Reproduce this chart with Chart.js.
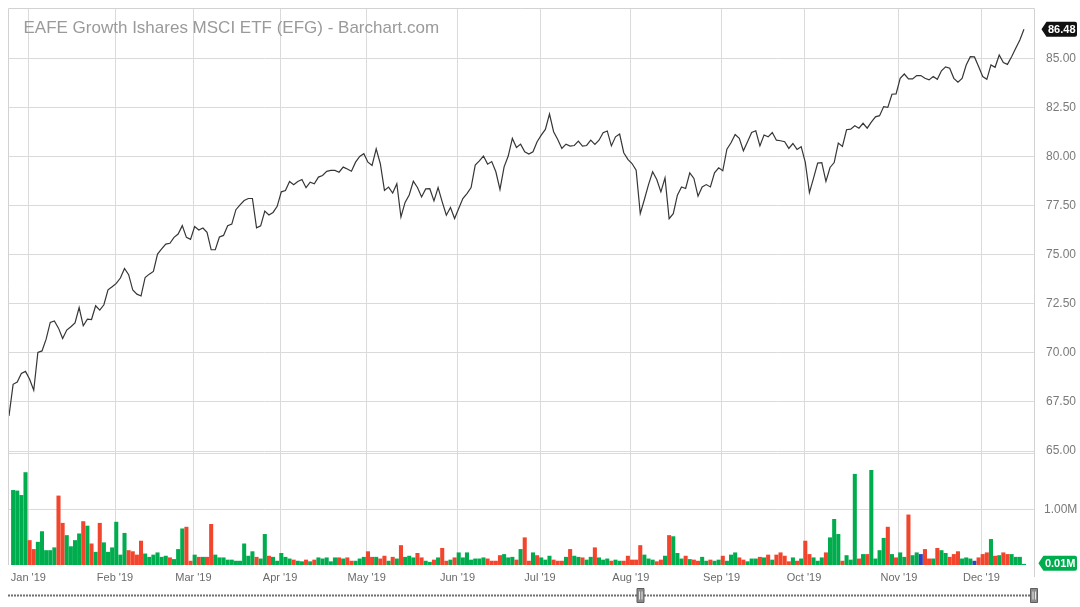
<!DOCTYPE html>
<html><head><meta charset="utf-8">
<script src="https://cdn.jsdelivr.net/npm/chart.js@4.4.1/dist/chart.umd.min.js"></script>
<style>html,body{margin:0;padding:0;background:#fff;overflow:hidden}</style>
</head><body>
<canvas id="c" width="1080" height="607"></canvas>
<script>
const chartTitle = "EAFE Growth Ishares MSCI ETF (EFG) - Barchart.com";
const monthLabels = ["Jan '19","Feb '19","Mar '19","Apr '19","May '19","Jun '19","Jul '19","Aug '19","Sep '19","Oct '19","Nov '19","Dec '19"];
// index of the first trading day of each month in the series below
const monthStartIndex = [5,26,45,66,87,109,129,151,173,193,216,236];
const priceTicks = [65,67.5,70,72.5,75,77.5,80,82.5,85];
const volumeTicks = [1.0];

const closes = [
66.79,68.40,68.52,68.95,69.06,68.66,68.10,70.02,70.10,70.70,
71.55,71.63,71.26,70.73,71.16,71.33,71.53,72.31,71.38,71.72,
71.70,72.40,72.18,72.45,73.21,73.37,73.54,73.81,74.30,73.98,
73.20,72.99,72.90,73.84,74.01,74.15,75.03,75.29,75.54,75.58,
75.88,76.05,76.48,75.88,75.78,76.43,76.26,76.36,76.14,75.25,
75.25,75.90,75.98,76.47,76.56,77.29,77.54,77.76,77.86,77.86,
76.37,76.47,77.22,77.02,77.15,77.46,78.20,78.27,78.73,78.56,
78.73,78.83,78.41,78.69,78.61,78.95,79.03,79.24,79.29,79.29,
79.20,79.46,79.36,79.25,79.71,80.00,80.14,79.71,79.54,80.39,
79.63,78.27,78.44,78.14,78.61,76.92,77.66,78.04,78.74,78.42,
77.94,78.35,78.36,77.74,78.42,77.69,77.01,77.40,76.84,77.35,
77.86,78.11,78.42,79.56,79.78,80.02,79.61,79.74,79.22,78.32,
79.47,80.02,80.92,80.46,80.63,80.24,80.12,80.24,80.75,81.09,
81.38,82.16,81.26,80.87,80.41,80.63,80.53,80.56,80.78,80.53,
80.56,80.83,80.61,80.83,81.21,81.30,80.54,81.00,81.14,80.19,
79.85,79.64,79.30,77.09,77.81,78.57,79.22,78.83,78.20,78.91,
76.83,77.09,78.03,78.45,78.37,79.17,78.88,77.98,78.45,78.57,
78.45,79.17,79.42,79.27,80.37,80.70,81.12,80.92,80.29,80.75,
81.22,81.31,80.54,81.09,81.00,81.22,80.83,80.80,80.75,80.41,
80.66,80.36,80.50,79.70,78.16,78.90,79.66,79.69,78.73,79.44,
79.69,80.68,80.51,81.36,81.39,81.56,81.44,81.69,81.44,81.75,
82.02,82.08,82.54,82.50,83.17,83.19,83.98,84.20,83.95,83.95,
84.12,84.12,83.98,83.90,84.07,83.93,84.36,84.56,84.49,83.98,
83.78,83.98,84.66,85.08,85.07,84.58,84.07,83.93,84.66,84.54,
85.17,84.78,84.69,85.08,85.51,85.93,86.48];

// volume in millions (index 0 has no bar)
const volumesM = [null,
1.34,1.33,1.25,1.66,0.44,0.28,0.41,0.60,0.26,0.26,
0.31,1.24,0.75,0.53,0.33,0.44,0.56,0.78,0.70,0.38,
0.23,0.75,0.40,0.23,0.31,0.77,0.18,0.57,0.26,0.24,
0.18,0.43,0.20,0.14,0.18,0.22,0.14,0.16,0.13,0.10,
0.28,0.65,0.68,0.07,0.18,0.14,0.14,0.14,0.73,0.18,
0.13,0.13,0.09,0.09,0.07,0.07,0.38,0.16,0.24,0.14,
0.11,0.55,0.16,0.14,0.07,0.21,0.14,0.11,0.09,0.07,
0.06,0.09,0.06,0.09,0.13,0.11,0.13,0.06,0.13,0.13,
0.11,0.13,0.07,0.07,0.11,0.14,0.24,0.14,0.14,0.11,
0.16,0.07,0.14,0.11,0.35,0.14,0.16,0.13,0.21,0.13,
0.07,0.05,0.09,0.13,0.30,0.07,0.09,0.13,0.22,0.13,
0.22,0.09,0.11,0.11,0.13,0.11,0.07,0.07,0.17,0.19,
0.13,0.14,0.09,0.28,0.49,0.07,0.22,0.17,0.13,0.09,
0.16,0.09,0.07,0.07,0.14,0.28,0.16,0.14,0.13,0.09,
0.14,0.31,0.13,0.09,0.11,0.07,0.09,0.07,0.07,0.16,
0.09,0.09,0.35,0.18,0.11,0.09,0.06,0.09,0.16,0.53,
0.51,0.21,0.11,0.16,0.10,0.09,0.07,0.14,0.07,0.09,
0.07,0.09,0.16,0.07,0.18,0.22,0.13,0.09,0.06,0.11,
0.11,0.14,0.13,0.18,0.09,0.18,0.22,0.16,0.06,0.13,
0.07,0.11,0.43,0.19,0.13,0.07,0.13,0.22,0.49,0.82,
0.55,0.07,0.17,0.09,1.63,0.11,0.19,0.19,1.70,0.11,
0.26,0.48,0.68,0.19,0.13,0.22,0.14,0.90,0.17,0.22,
0.19,0.28,0.11,0.11,0.30,0.26,0.21,0.14,0.19,0.24,
0.11,0.13,0.11,0.07,0.13,0.19,0.22,0.46,0.16,0.17,
0.22,0.19,0.19,0.14,0.14,0.014];

// day direction for each volume bar, blocks of ten (u = up, d = down, f = unchanged)
const volumeDirectionBlocks = [
"uuuudduuuu","udduuuudud","uduuuuuudd","dduuuuuudu","uuddududdu",
"uuuuuuuuud","uuduuuuudu","ududuuuuud","udduuuddud","dududuuudd",
"uududduduu","uuuuuddddu","uududduduu","uddduduudu","uduuuduudd",
"ddduuuddud","uuududduud","uuduuudduu","udududdddu","dudduuuduu",
"uduuududuu","uududuuduu","fdduduuddd","uuufdddudu","dduuuu"];
</script>
<script>
const volDir = [null];
volumeDirectionBlocks.forEach(b => b.split('').forEach(c => volDir.push(c)));
const priceData = closes.map((v, i) => ({x: i, y: v}));
const volumeData = [];
volumesM.forEach((v, i) => { if (v !== null) volumeData.push({x: i, y: v}); });
const colorFor = {u: '#00ad4e', d: '#f2452d', f: '#2745c2'};
const FONT = "'Liberation Sans', Arial, Helvetica, sans-serif";
const GRID = '#dadada';

const decorPlugin = {
  id: 'decor',
  afterDatasetsDraw(chart) {
    const ctx = chart.ctx, a = chart.chartArea;
    const ys = chart.scales.y, vs = chart.scales.y2;
    ctx.save();
    ctx.strokeStyle = '#d2d2d2'; ctx.lineWidth = 1;
    ctx.beginPath();
    ctx.moveTo(Math.round(a.left) + 0.5, a.bottom);
    ctx.lineTo(Math.round(a.left) + 0.5, Math.round(a.top) + 0.5);
    ctx.lineTo(Math.round(a.right) + 0.5, Math.round(a.top) + 0.5);
    ctx.lineTo(Math.round(a.right) + 0.5, a.bottom + 12);
    ctx.stroke();
    ctx.fillStyle = '#9a9a9a';
    ctx.font = '17px ' + FONT;
    ctx.textBaseline = 'alphabetic'; ctx.textAlign = 'left';
    ctx.fillText(chartTitle, 23.5, 32.5);
    ctx.fillStyle = '#7a7a7a';
    ctx.font = '12px ' + FONT;
    ctx.textBaseline = 'middle';
    volumeTicks.forEach(t => ctx.fillText(t.toFixed(2) + 'M', a.right + 10, vs.getPixelForValue(t)));
    const tag = (text, y, bg) => {
      ctx.font = 'bold 11px ' + FONT;
      const w = ctx.measureText(text).width + 3;
      const r = 1077, l = r - w, h = 15, t = y - h / 2;
      ctx.fillStyle = bg;
      ctx.beginPath();
      ctx.moveTo(l - 5, y);
      ctx.lineTo(l, t);
      ctx.lineTo(r - 2, t); ctx.quadraticCurveTo(r, t, r, t + 2);
      ctx.lineTo(r, t + h - 2); ctx.quadraticCurveTo(r, t + h, r - 2, t + h);
      ctx.lineTo(l, t + h);
      ctx.closePath(); ctx.fill();
      ctx.fillStyle = '#fff'; ctx.textAlign = 'center'; ctx.textBaseline = 'middle';
      ctx.fillText(text, l + w / 2, y + 0.5);
      ctx.textAlign = 'left';
    };
    const lastP = closes[closes.length - 1];
    tag(lastP.toFixed(2), ys.getPixelForValue(lastP), '#111');
    const lastV = volumesM[volumesM.length - 1];
    tag(lastV.toFixed(2) + 'M', vs.getPixelForValue(lastV) - 1, colorFor[volDir[volDir.length - 1]]);
    const sy = 595.5;
    ctx.strokeStyle = '#6f6f6f'; ctx.lineWidth = 2; ctx.setLineDash([2, 1]);
    ctx.beginPath(); ctx.moveTo(a.left, sy); ctx.lineTo(a.right, sy); ctx.stroke();
    ctx.setLineDash([]);
    const handle = (x) => {
      ctx.fillStyle = '#8c8c8c'; ctx.strokeStyle = '#5e5e5e'; ctx.lineWidth = 1;
      ctx.beginPath(); ctx.rect(x - 3.5, sy - 7, 7, 14); ctx.fill(); ctx.stroke();
      ctx.strokeStyle = '#e8e8e8';
      ctx.beginPath(); ctx.moveTo(x - 1, sy - 4); ctx.lineTo(x - 1, sy + 4);
      ctx.moveTo(x + 1.5, sy - 4); ctx.lineTo(x + 1.5, sy + 4); ctx.stroke();
    };
    handle(640.5); handle(a.right);
    ctx.restore();
  }
};

const noPad = s => { s.paddingTop = 0; s.paddingBottom = 0; s.paddingLeft = 0; s.paddingRight = 0; };

new Chart(document.getElementById('c'), {
  type: 'bar',
  data: {
    datasets: [
      {type: 'line', data: priceData, yAxisID: 'y', xAxisID: 'x', borderColor: '#363636', borderWidth: 1.2,
       pointRadius: 0, tension: 0, fill: false},
      {type: 'bar', data: volumeData, yAxisID: 'y2', xAxisID: 'x',
       backgroundColor: ctx => colorFor[volDir[ctx.raw ? ctx.raw.x : 1]] || colorFor.u,
       barThickness: 3.4, borderWidth: 0}
    ]
  },
  options: {
    responsive: false, animation: false, devicePixelRatio: 1,
    layout: {padding: {left: 8, top: 8, right: 0, bottom: 0}},
    plugins: {legend: {display: false}, tooltip: {enabled: false}},
    scales: {
      x: {
        type: 'linear', min: -0.24, max: 248.43, offset: false,
        afterBuildTicks: s => { s.ticks = monthStartIndex.map(v => ({value: v - 0.3})); },
        ticks: {autoSkip: false, maxRotation: 0, color: '#6a6a6a', padding: 6,
                font: {size: 11, family: FONT}, callback: (v, i) => monthLabels[i]},
        grid: {color: GRID, drawTicks: false, offset: false},
        border: {display: false},
        afterFit: s => { s.height = 42; noPad(s); }
      },
      y: {
        position: 'right', min: 59.2, max: 87.56,
        afterBuildTicks: s => { s.ticks = priceTicks.map(v => ({value: v})); },
        ticks: {color: '#7a7a7a', padding: 12, font: {size: 12, family: FONT},
                callback: v => Number(v).toFixed(2)},
        grid: {color: GRID, drawTicks: false},
        border: {display: false},
        afterFit: s => { s.width = 46; noPad(s); }
      },
      y2: {
        position: 'right', min: 0, max: 10,
        afterBuildTicks: s => { s.ticks = [{value: volumeTicks[0]}, {value: 2}]; },
        ticks: {display: false},
        grid: {color: GRID, drawTicks: false},
        border: {display: false},
        afterFit: s => { s.width = 0; noPad(s); }
      }
    }
  },
  plugins: [decorPlugin]
});
</script>
</body></html>
